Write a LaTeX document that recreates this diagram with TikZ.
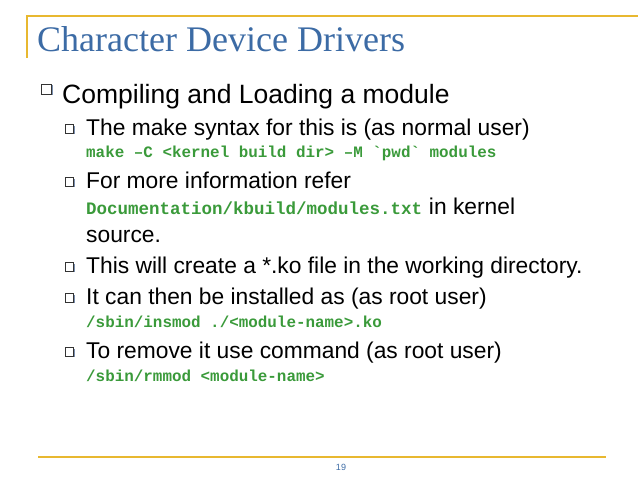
\documentclass[tikz,border=0pt]{standalone}
\usepackage{fontspec}
\setmainfont{Liberation Sans}
\newfontfamily\ttl{Liberation Serif}
\newfontfamily\cod{Liberation Mono}
\definecolor{gold}{HTML}{E8B830}
\definecolor{ttlblue}{HTML}{3C6BA5}
\definecolor{cgreen}{HTML}{3A9A3A}
\definecolor{bshadow}{HTML}{7A8FB0}
\begin{document}
\begin{tikzpicture}[x=1pt,y=-1pt,
  lone/.style={anchor=base west,inner sep=0,font=\fontsize{26.5}{30}\selectfont},
  ltwo/.style={anchor=base west,inner sep=0,font=\fontsize{22.8}{26}\selectfont},
  lcode/.style={anchor=base west,inner sep=0,text=cgreen,font=\cod\bfseries\fontsize{15.9}{18}\selectfont},
  rule/.style={gold,line width=1.2pt}]
\useasboundingbox (0,0) rectangle (638,478);
\coordinate (tl) at (27,16); \coordinate (tr) at (638,16); \coordinate (vb) at (27,58);
\draw[rule] (vb) -- (tl) -- (tr);
\coordinate (bl) at (38,457); \coordinate (br) at (606,457);
\draw[rule] (bl) -- (br);
\node[anchor=base west,inner sep=0,text=ttlblue,font=\ttl\fontsize{36}{40}\selectfont] (title) at (37,52) {Character Device Drivers};
\node[inner sep=0,font=\fontsize{9}{10}\selectfont,text=ttlblue] (pg) at (341,467) {19};
% bullets
\newcommand\bul[3]{%
  \fill[bshadow] (#1+1.5,#2-#3+1.5) rectangle (#1+#3+1.5,#2+1.5);
  \filldraw[fill=white,draw=black!80,line width=0.6pt] (#1,#2-#3) rectangle (#1+#3,#2);}
\bul{41}{94}{10}
\node[lone] (a) at (62,104) {Compiling and Loading a module};
\foreach \yy in {133,186,271,302,356} {\bul{65}{\yy}{8.5}}
\node[ltwo] (b1) at (86,136) {The make syntax for this is (as normal user)};
\node[lcode] (c1) at (86,158) {make –C <kernel build dir> –M `pwd` modules};
\node[ltwo] (b2) at (86,189) {For more information refer};
\node[lcode,font=\cod\bfseries\fontsize{17.5}{20}\selectfont] (c2) at (86,215) {Documentation/kbuild/modules.txt};
\node[ltwo,anchor=base west] (c2b) at (c2.base east) {\ in kernel};
\node[ltwo] (b2c) at (86,243) {source.};
\node[ltwo] (b3) at (86,274) {This will create a *.ko file in the working directory.};
\node[ltwo] (b4) at (86,305) {It can then be installed as (as root user)};
\node[lcode] (c4) at (86,328) {/sbin/insmod ./<module-name>.ko};
\node[ltwo] (b5) at (86,359) {To remove it use command (as root user)};
\node[lcode] (c5) at (86,382) {/sbin/rmmod <module-name>};
\end{tikzpicture}
\end{document}
